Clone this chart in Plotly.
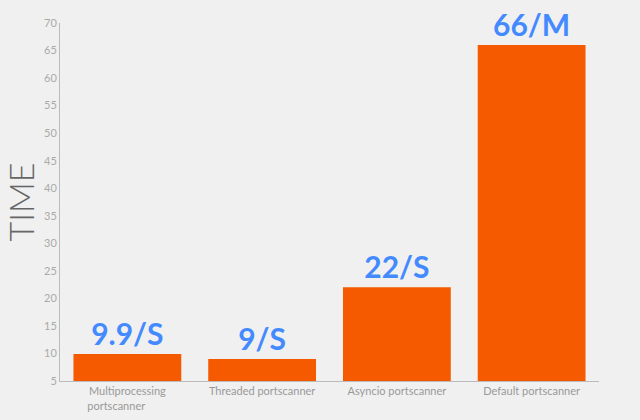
import plotly.graph_objects as go

scanners = ['Multiprocessing<br>portscanner' + '\u00a0' * 8, 'Threaded portscanner',
            'Asyncio portscanner', 'Default portscanner']
times = [9.9, 9, 22, 66]
labels = ['9.9/S', '9/S', '22/S', '66/M']
y_ticks = list(range(5, 75, 5))

fig = go.Figure()

fig.add_trace(go.Bar(
    x=scanners,
    y=times,
    text=labels,
    textposition='outside',
    cliponaxis=False,
    textfont=dict(family='Lato', size=30, color='#448aff', weight='bold'),
    marker=dict(color='#f55a00', line=dict(width=0)),
))

fig.update_layout(
    width=640,
    height=420,
    paper_bgcolor='#f0f0f0',
    plot_bgcolor='#f0f0f0',
    margin=dict(l=60, r=41, t=23, b=39),
    bargap=0.2,
    showlegend=False,
    font=dict(family='Lato', color='#999999'),
    xaxis=dict(
        automargin=False,
        showline=True,
        linecolor='#bbbbbb',
        linewidth=1,
        showgrid=False,
        ticks='',
        tickfont=dict(size=11, color='#999999'),
        range=[-0.5, 3.5],
    ),
    yaxis=dict(
        automargin=False,
        range=[5, 70],
        tickvals=y_ticks,
        showline=True,
        linecolor='#bbbbbb',
        linewidth=1,
        showgrid=False,
        zeroline=False,
        ticks='',
        tickfont=dict(size=11, color='#aaaaaa'),
        title=dict(text='TIME', font=dict(size=34, color='#666666', family='Lato', weight=300), standoff=6),
    ),
)

# drop the default page margin so the chart sits at the window's corner
fig.write_html(
    "out.html",
    config={'displayModeBar': False},
    post_script="document.body.style.margin='0';document.body.style.background='#f0f0f0';",
)
